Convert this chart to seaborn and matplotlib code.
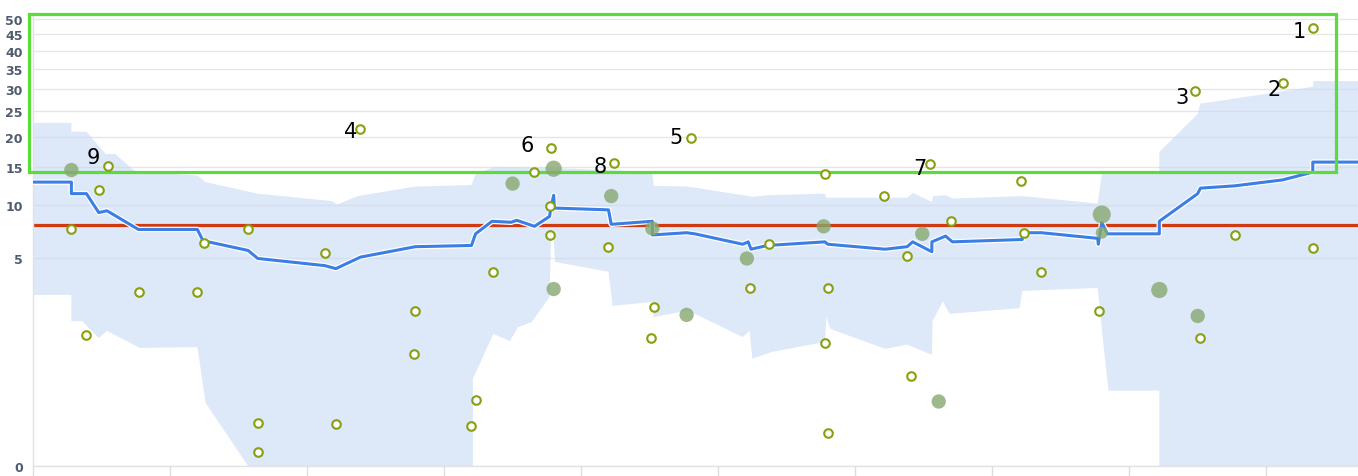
import numpy as np
import pandas as pd
import matplotlib
matplotlib.use("Agg")
import matplotlib.pyplot as plt
import matplotlib.patheffects as pe
from matplotlib.patches import Rectangle
import seaborn as sns

sns.set_theme(style="whitegrid")
plt.rcParams["font.family"] = ["DejaVu Sans"]

# ---- data (x in days, y in value units) ----
# median line
line_x = [0, 2.8, 2.8, 3.9, 4.8, 5.4, 7.7, 12.0, 12.4, 15.7, 16.4, 21.3, 22.1, 23.9, 27.9,
          32.0, 32.3, 33.5, 34.9, 35.3, 36.6, 37.7, 37.8, 38.0, 38.05, 42.0, 42.2, 45.2, 45.2,
          47.7, 48.3, 51.8, 52.2, 52.4, 53.6, 57.8, 58.0, 62.2, 63.8, 64.2, 65.6, 65.6, 66.6,
          67.1, 72.2, 72.2, 73.6, 77.7, 77.75, 78.0, 78.4, 82.2, 82.2, 85.0, 85.2, 87.7, 91.2,
          93.4, 93.4, 96.7]
line_y = [12.8, 12.8, 11.3, 11.3, 9.1, 9.3, 7.4, 7.4, 6.4, 5.6, 5.0, 4.5, 4.3, 5.1, 5.9,
          6.0, 7.0, 8.2, 8.1, 8.3, 7.7, 8.7, 9.7, 11.1, 9.6, 9.4, 7.9, 8.2, 6.9,
          7.1, 7.0, 6.1, 6.3, 5.7, 6.0, 6.3, 6.1, 5.7, 5.9, 6.3, 5.5, 6.3, 6.8,
          6.3, 6.5, 7.1, 7.1, 6.6, 6.1, 8.1, 7.0, 7.0, 8.2, 11.3, 12.0, 12.3, 13.1,
          14.2, 15.7, 15.7]

# band upper / lower edges
up_x = [0, 2.8, 2.8, 3.9, 5.3, 6.0, 7.4, 12.0, 12.6, 16.4, 21.8, 22.2, 23.7, 27.9, 32.0,
        32.3, 33.7, 38.1, 45.2, 45.3, 47.8, 52.2, 52.5, 53.6, 57.8, 57.9, 63.8, 64.2, 65.6,
        65.7, 66.6, 67.1, 72.2, 77.7, 78.0, 82.2, 82.2, 85.0, 85.2, 93.4, 93.45, 96.7]
up_y = [22.6, 22.6, 20.9, 20.9, 17.0, 17.0, 14.4, 13.7, 12.8, 11.3, 10.4, 10.0, 11.0, 12.2, 12.4,
        13.9, 15.0, 14.8, 14.2, 12.3, 12.2, 11.0, 10.9, 11.1, 11.3, 10.8, 10.8, 11.4, 10.3,
        11.0, 11.1, 10.7, 11.0, 10.1, 13.9, 13.9, 17.3, 24.4, 26.6, 30.5, 31.9, 31.9]
lo_x = [0, 2.8, 2.8, 3.6, 4.8, 5.4, 7.8, 12.0, 12.6, 15.7, 32.1, 32.1, 33.6, 34.8, 35.4,
        36.4, 37.7, 37.8, 38.0, 38.1, 42.0, 42.3, 45.2, 45.3, 47.8, 51.8, 52.3, 52.5, 53.9,
        57.8, 57.9, 58.2, 62.2, 63.8, 65.6, 65.65, 66.4, 66.9, 72.0, 72.2, 77.7, 78.1, 78.5,
        82.2, 82.2, 96.7]
lo_y = [2.8, 2.8, 1.7, 1.7, 1.17, 1.38, 0.92, 0.94, 0.14, 0, 0, 0.37, 1.29, 1.09, 1.5,
        1.67, 2.7, 6.7, 6.7, 4.75, 4.1, 2.3, 2.47, 1.85, 2.1, 1.2, 1.38, 0.69, 0.83,
        1.07, 1.85, 1.44, 0.9, 1.0, 0.77, 1.7, 2.5, 1.97, 2.2, 3.0, 3.16, 1.07, 0.24,
        0.24, 0, 0]

# observations (first nine are the numbered ones)
obs_x = [93.4, 91.2, 84.8, 23.9, 48.0, 37.8, 65.5, 42.4, 5.5, 4.8, 2.8, 12.5, 15.7, 7.7, 12.0,
         3.9, 16.4, 16.4, 22.1, 21.3, 27.9, 27.8, 32.3, 32.0, 33.6, 36.6, 37.7, 37.7, 42.0,
         45.3, 45.1, 57.8, 62.1, 53.7, 52.3, 58.0, 57.8, 63.8, 64.1, 58.0, 67.0, 72.1, 72.3,
         73.6, 77.8, 87.7, 93.4, 85.2]
obs_y = [47.0, 31.5, 29.5, 21.4, 19.8, 18.0, 15.4, 15.6, 15.1, 11.8, 7.4, 6.2, 7.4, 2.95, 2.95,
         1.26, 0.045, 0.0015, 0.041, 5.4, 2.1, 0.79, 0.16, 0.036, 4.1, 14.2, 9.8, 6.9, 5.9,
         2.25, 1.17, 13.9, 11.0, 6.1, 3.16, 3.16, 1.04, 5.2, 0.41, 0.02, 8.2, 13.0, 7.1,
         4.1, 2.1, 6.9, 5.8, 1.17]
rank_labels = ["1", "2", "3", "4", "5", "6", "7", "8", "9"]
# label offsets (points) relative to their marker
label_dx = [-9.4, -5.8, -9.4, -7.2, -10.8, -17.3, -7.9, -10.1, -10.8]
label_dy = [-2.2, -4.3, -4.3, -1.4, 0.7, 2.2, -2.9, -2.2, 6.5]

# weighted samples
smp_x = [2.8, 35.0, 38.0, 42.2, 38.0, 45.2, 47.7, 52.1, 57.7, 64.9, 66.1, 78.0, 78.0, 82.2, 85.0]
smp_y = [14.5, 12.6, 14.7, 11.0, 3.1, 7.5, 1.93, 5.0, 7.7, 7.0, 0.15, 8.9, 7.1, 3.05, 1.89]
smp_w = [2, 2, 3, 2, 2, 2, 2, 2, 2, 2, 2, 4, 1, 3, 2]

threshold = 7.8
box_x = (-0.3, 95.1)
box_y = (14.2, 51.7)

# ---- plot ----
fig = plt.figure(figsize=(13.58, 4.77), dpi=100)
ax = fig.add_axes([33 / 1358, 10 / 477, 1 - 33 / 1358, 453 / 477])
ax.set_yscale("function", functions=(np.cbrt, lambda v: np.power(v, 3)))

band_x = np.concatenate([up_x, lo_x[::-1]])
band_y = np.concatenate([up_y, lo_y[::-1]])
ax.fill(band_x, band_y, color="#c9daf6", alpha=0.62, lw=0, zorder=1)

ax.axhline(threshold, color="#cf3a10", lw=2.3, zorder=2)

sns.lineplot(x=line_x, y=line_y, sort=False, estimator=None, color="#3a7ee6", lw=2.2,
             ax=ax, zorder=3,
             path_effects=[pe.Stroke(linewidth=4.0, foreground="white"), pe.Normal()])

ax.add_patch(Rectangle((box_x[0], box_y[0]), box_x[1] - box_x[0], box_y[1] - box_y[0],
                       fill=False, ec="#5cdc3a", lw=2.3, clip_on=False, zorder=4))

sns.scatterplot(x=obs_x, y=obs_y, s=38, marker="o", facecolor="white",
                edgecolor="#87a010", linewidth=1.5, ax=ax, zorder=5)

sns.scatterplot(x=smp_x, y=smp_y, size=smp_w, sizes=(75, 168), color="#86a86f",
                alpha=0.8, linewidth=0, legend=False, ax=ax, zorder=6)

for i, lab in enumerate(rank_labels):
    ax.annotate(lab, (obs_x[i], obs_y[i]), xytext=(label_dx[i], label_dy[i]),
                textcoords="offset points", ha="center", va="center",
                fontsize=15, color="black", zorder=7)

ax.set_xlim(0, 96.7)
ax.set_ylim(0, 52)
ax.set_xticks(np.arange(0, 91, 10))
ax.set_xticklabels([])
ax.set_yticks(np.arange(0, 51, 5))
ax.set_yticklabels([str(v) for v in range(0, 51, 5)])
ax.grid(axis="y", color="#e6e6e6", lw=1)
ax.grid(axis="x", visible=False)
ax.set_axisbelow(True)

ax.tick_params(axis="y", length=4.3, width=1, color="#dddddd", pad=3,
               labelsize=9, labelcolor="#505b70")
ax.tick_params(axis="x", length=7, width=1, color="#dddddd", direction="out", bottom=True)
for lab in ax.get_yticklabels():
    lab.set_fontweight("bold")

for s in ["top", "right"]:
    ax.spines[s].set_visible(False)
for s in ["left", "bottom"]:
    ax.spines[s].set_color("#e2e2e2")
    ax.spines[s].set_linewidth(1)

ax.set_xlabel("")
ax.set_ylabel("")
fig.savefig("out.png", dpi=100)
